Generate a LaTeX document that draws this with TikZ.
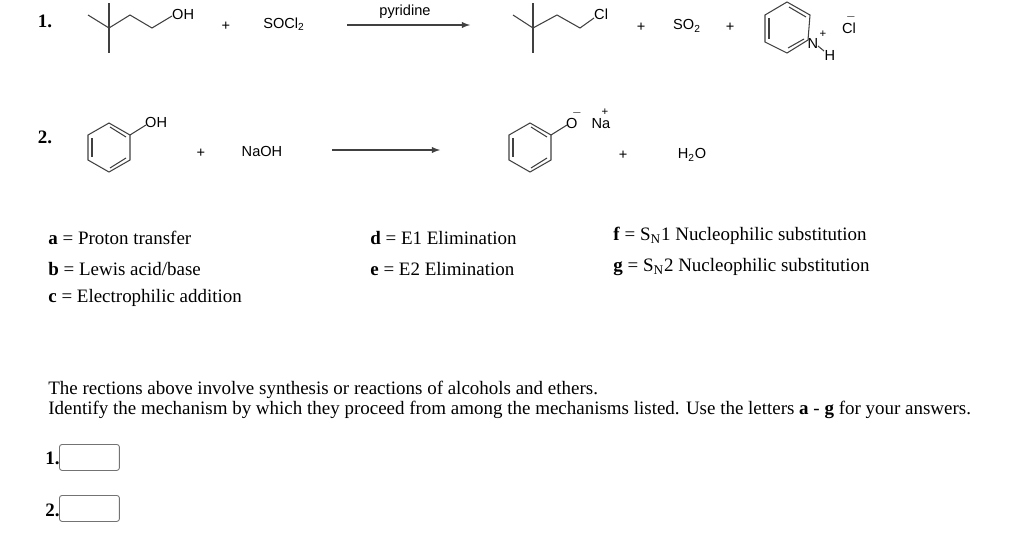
\documentclass[tikz,border=0pt]{standalone}
\usepackage{fontspec}
\setmainfont{Liberation Serif}
\setsansfont{Liberation Sans}
\begin{document}
\begin{tikzpicture}[x=0.02cm,y=-0.02cm,
  bond/.style={line width=0.6pt,black!75},
  chem/.style={font=\sffamily\fontsize{8.3}{10}\selectfont,inner sep=0.5pt},
  txt/.style={font=\fontsize{10.8}{12}\selectfont,anchor=west,inner sep=0pt},
  num/.style={font=\bfseries\fontsize{10.8}{12}\selectfont,inner sep=0pt},
  rarrow/.style={line width=0.6pt,black!75,-latex},
  ansbox/.style={draw=black!55,rounded corners=1.5pt,line width=0.5pt,minimum width=1.2cm,minimum height=0.52cm,inner sep=0pt}]
\useasboundingbox (0,0) rectangle (1024,541);
% Reaction 1
\node[num] (n1) at (45,21) {1.};
\draw[bond] (109,3) -- (109,53);
\draw[bond] (88,15) -- (109,28) -- (130,15) -- (152,28) -- (172,16);
\node[chem,anchor=west] (oh1) at (171,14) {OH};
\node[chem] (p1) at (226,26) {+};
\node[chem] (socl) at (284,24) {SOCl\textsubscript{2}};
\coordinate (a1s) at (347,25); \coordinate (a1e) at (470,25);
\draw[rarrow] (a1s) -- (a1e);
\node[chem] (pyr) at (405,12) {pyridine};
\draw[bond] (533,3) -- (533,53);
\draw[bond] (513,15) -- (533,28) -- (557,15) -- (580,28) -- (594,18);
\node[chem,anchor=west] (cl1) at (593,14) {Cl};
\node[chem] (p2) at (641,27) {+};
\node[chem] (so2) at (687,26) {SO\textsubscript{2}};
\node[chem] (p3) at (730,27) {+};
% pyridinium
\coordinate (r1) at (787,2); \coordinate (r2) at (810,15); \coordinate (r3) at (808,40);
\coordinate (r4) at (787,53); \coordinate (r5) at (765,42); \coordinate (r6) at (765,15);
\draw[bond] (r3) -- (r4) -- (r5) -- (r6) -- (r1) -- (r2) -- (r3);
\draw[bond] (769,18) -- (769,39);
\draw[bond] (789,7) -- (806,17);
\draw[bond] (788,48) -- (804,39);
\node[chem] (nplus) at (813,43) {N};
\node[chem] (plus) at (823,34) {\fontsize{6.5}{6}\selectfont+};
\draw[bond] (818,46) -- (824,51);
\node[chem] (h1) at (830,55) {H};
\node[chem] (clm) at (849,28) {Cl};
\node[chem] (clmm) at (851,17) {\fontsize{6}{6}\selectfont$-$};
% Reaction 2
\node[num] (n2) at (45,137) {2.};
\foreach \c/\n in {109/A,530/B}{
  \coordinate (\n1) at (\c,123); \coordinate (\n2) at (\c+21,135); \coordinate (\n3) at (\c+21,160);
  \coordinate (\n4) at (\c,172); \coordinate (\n5) at (\c-21,160); \coordinate (\n6) at (\c-21,135);
  \draw[bond] (\n1) -- (\n2) -- (\n3) -- (\n4) -- (\n5) -- (\n6) -- cycle;
  \draw[bond] (\c-17,138) -- (\c-17,157);
  \draw[bond] (\c+1,127) -- (\c+17,137);
  \draw[bond] (\c+1,168) -- (\c+17,158);
  \draw[bond] (\n2) -- (\c+37,125);
}
\node[chem,anchor=west] (oh2) at (144,122) {OH};
\node[chem] (p4) at (201,153) {+};
\node[chem] (naoh) at (262,151) {NaOH};
\coordinate (a2s) at (332,150); \coordinate (a2e) at (440,150);
\draw[rarrow] (a2s) -- (a2e);
\node[chem,anchor=west] (om) at (565,123) {O};
\node[chem] (omm) at (577,113) {\fontsize{6}{6}\selectfont$-$};
\node[chem] (na) at (601,124) {Na};
\node[chem] (nap) at (605,112) {\fontsize{6.5}{6}\selectfont+};
\node[chem] (p5) at (623,155) {+};
\node[chem] (h2o) at (692,155) {H\textsubscript{2}O};
% mechanisms
\node[txt] (ma) at (48,238) {\textbf{a} = Proton transfer};
\node[txt] (mb) at (48,269) {\textbf{b} = Lewis acid/base};
\node[txt] (mc) at (48,298) {\textbf{c} = Electrophilic addition};
\node[txt] (md) at (370,238) {\textbf{d} = E1 Elimination};
\node[txt] (me) at (370,269) {\textbf{e} = E2 Elimination};
\node[txt] (mf) at (613,236) {\textbf{f} = S\textsubscript{N}1 Nucleophilic substitution};
\node[txt] (mg) at (613,267) {\textbf{g} = S\textsubscript{N}2 Nucleophilic substitution};
\node[txt] (q1) at (48,390) {The rections above involve synthesis or reactions of alcohols and ethers.};
\node[txt] (q2) at (48,410) {Identify the mechanism by which they proceed from among the mechanisms listed. Use the letters \textbf{a} - \textbf{g} for your answers.};
\node[num,anchor=east] (l1) at (60,458) {1.};
\node[ansbox,anchor=north west] (b1) at (59,444) {};
\node[num,anchor=east] (l2) at (60,510) {2.};
\node[ansbox,anchor=north west] (b2) at (59,495) {};
\end{tikzpicture}
\end{document}
